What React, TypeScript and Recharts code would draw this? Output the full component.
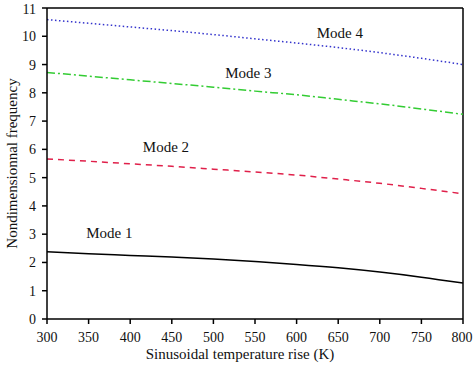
import {
  LineChart,
  Line,
  XAxis,
  YAxis,
  ReferenceLine,
  ReferenceDot,
  Label,
} from 'recharts';

const temperatures = [300, 350, 400, 450, 500, 550, 600, 650, 700, 750, 800];
const mode1 = [2.38, 2.31, 2.25, 2.19, 2.12, 2.03, 1.93, 1.81, 1.66, 1.48, 1.27];
const mode2 = [5.66, 5.58, 5.49, 5.4, 5.3, 5.2, 5.09, 4.95, 4.8, 4.62, 4.43];
const mode3 = [8.72, 8.59, 8.46, 8.33, 8.2, 8.06, 7.93, 7.77, 7.61, 7.43, 7.24];
const mode4 = [10.59, 10.46, 10.33, 10.2, 10.06, 9.91, 9.76, 9.6, 9.42, 9.22, 9.0];

const xTicks = [300, 350, 400, 450, 500, 550, 600, 650, 700, 750, 800];
const yTicks = [0, 1, 2, 3, 4, 5, 6, 7, 8, 9, 10, 11];

const modeLabels = [
  { text: 'Mode 1', x: 375, y: 3.04 },
  { text: 'Mode 2', x: 443, y: 6.08 },
  { text: 'Mode 3', x: 542, y: 8.7 },
  { text: 'Mode 4', x: 652, y: 10.14 },
];

const data = temperatures.map((t, i) => ({
  t,
  mode1: mode1[i],
  mode2: mode2[i],
  mode3: mode3[i],
  mode4: mode4[i],
}));

const font = '"Liberation Serif", "DejaVu Serif", serif';

function XTick({ x, y, payload }: any) {
  return (
    <text x={x} y={y + 16} textAnchor="middle" fontSize={14} fill="#111" fontFamily={font}>
      {payload.value}
    </text>
  );
}

function YTick({ x, y, payload }: any) {
  return (
    <text x={x} y={y + 5} textAnchor="end" fontSize={14} fill="#111" fontFamily={font}>
      {payload.value}
    </text>
  );
}

export default function App() {
  return (
    <div style={{ position: 'absolute', left: 0, top: 0, background: '#fff', fontFamily: font }}>
      <LineChart
        width={474}
        height={367}
        data={data}
        margin={{ top: 8, right: 11, bottom: 0, left: 0 }}
        style={{ fontFamily: font }}
      >
        <XAxis
          dataKey="t"
          type="number"
          domain={[300, 800]}
          ticks={xTicks}
          height={48}
          stroke="#000"
          strokeWidth={1.5}
          tickSize={5}
          tickMargin={2}
          tick={<XTick />}
        >
          <Label
            value="Sinusoidal temperature rise (K)"
            position="insideBottom"
            offset={8}
            dx={-15}
            style={{ fontSize: 15, fill: '#111', fontFamily: font }}
          />
        </XAxis>
        <YAxis
          type="number"
          domain={[0, 11]}
          ticks={yTicks}
          width={47}
          stroke="#000"
          strokeWidth={1.5}
          tickSize={5}
          tickMargin={6}
          tick={<YTick />}
        >
          <Label
            value="Nondimensionnal frequency"
            angle={-90}
            position="insideLeft"
            offset={12}
            style={{ fontSize: 15, fill: '#111', textAnchor: 'middle', fontFamily: font }}
          />
        </YAxis>
        <ReferenceLine y={11} stroke="#000" strokeWidth={1.5} />
        <ReferenceLine x={800} stroke="#000" strokeWidth={1.5} />
        <Line
          dataKey="mode1"
          type="monotone"
          stroke="#000"
          strokeWidth={1.5}
          dot={false}
          isAnimationActive={false}
        />
        <Line
          dataKey="mode2"
          type="monotone"
          stroke="#e0204a"
          strokeWidth={1.5}
          strokeDasharray="6 5"
          dot={false}
          isAnimationActive={false}
        />
        <Line
          dataKey="mode3"
          type="monotone"
          stroke="#33cc33"
          strokeWidth={1.5}
          strokeDasharray="8 3 2 3"
          dot={false}
          isAnimationActive={false}
        />
        <Line
          dataKey="mode4"
          type="monotone"
          stroke="#3333cc"
          strokeWidth={1.5}
          strokeDasharray="1.5 2.5"
          dot={false}
          isAnimationActive={false}
        />
        {modeLabels.map((m) => (
          <ReferenceDot
            key={m.text}
            x={m.x}
            y={m.y}
            r={0}
            stroke="none"
            fill="none"
            label={{ value: m.text, position: 'center', fontSize: 15, fill: '#111', fontFamily: font }}
          />
        ))}
      </LineChart>
    </div>
  );
}
